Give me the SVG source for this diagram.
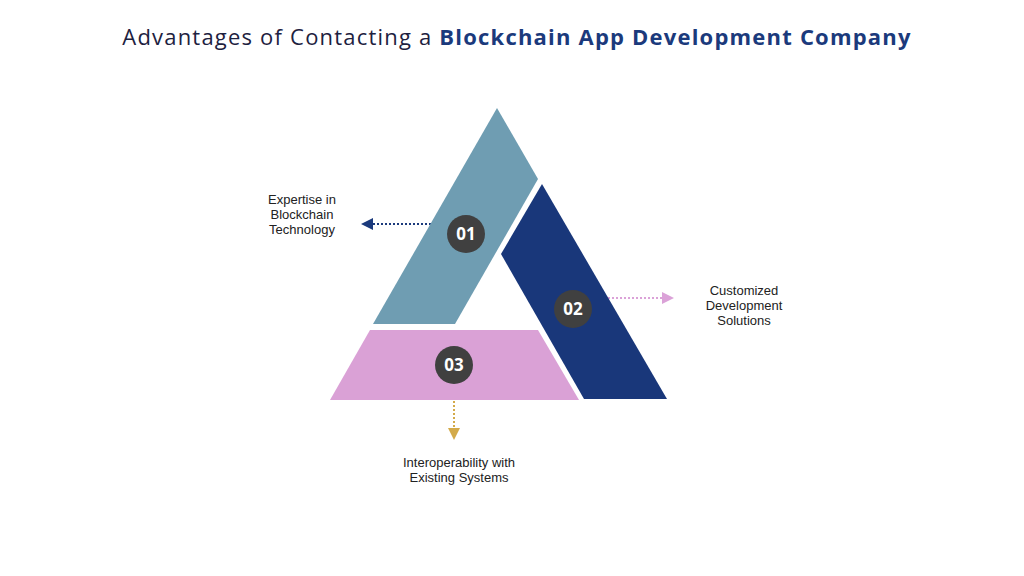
<svg xmlns="http://www.w3.org/2000/svg" width="1024" height="576" viewBox="0 0 1024 576">
<style>
.lbl{font-family:"Liberation Sans",Arial,sans-serif;font-size:13px;fill:#222;text-anchor:middle}
.num{font-family:"Open Sans",sans-serif;font-weight:700;font-size:17px;fill:#fff;text-anchor:middle}
.c{fill:#404040}
</style>
<defs>
<marker id="mb" markerWidth="6" markerHeight="6" refX="3" refY="3" orient="auto"><path d="M0,0L6,3L0,6z" fill="#1b3a7c"/></marker>
<marker id="mp" markerWidth="6" markerHeight="6" refX="3" refY="3" orient="auto"><path d="M0,0L6,3L0,6z" fill="#dba2d8"/></marker>
<marker id="mg" markerWidth="6" markerHeight="6" refX="3" refY="3" orient="auto"><path d="M0,0L6,3L0,6z" fill="#d3aa4a"/></marker>
</defs>
<rect width="1024" height="576" fill="#fff"/>
<text x="517" y="45" text-anchor="middle" font-family="'Open Sans',sans-serif" font-size="22" letter-spacing="1.2" fill="#1d2140">Advantages of Contacting a <tspan font-weight="700" fill="#1b3a7c">Blockchain App Development Company</tspan></text>
<g id="connectors" fill="none" stroke-width="2" stroke-dasharray="2,2">
<line x1="431" y1="224" x2="367" y2="224" stroke="#1b3a7c" marker-end="url(#mb)"/>
<line x1="604" y1="298" x2="668" y2="298" stroke="#dba2d8" marker-end="url(#mp)"/>
<line x1="454" y1="401" x2="454" y2="434" stroke="#d3aa4a" marker-end="url(#mg)"/>
</g>
<g id="node1"><polygon points="497,108 538,179 455,324 373,324" fill="#6f9db2"/><circle class="c" cx="466" cy="234" r="19"/><text class="num" x="466" y="240">01</text>
<text class="lbl" x="302" y="204">Expertise in</text><text class="lbl" x="302" y="219">Blockchain</text><text class="lbl" x="302" y="234">Technology</text></g>
<g id="node2"><polygon points="542,184 667,399 584,399 501,254" fill="#19377a"/><circle class="c" cx="573" cy="309" r="19"/><text class="num" x="573" y="315">02</text>
<text class="lbl" x="744" y="295">Customized</text><text class="lbl" x="744" y="310">Development</text><text class="lbl" x="744" y="325">Solutions</text></g>
<g id="node3"><polygon points="370,330 538,330 579,400 330,400" fill="#daa1d6"/><circle class="c" cx="454" cy="365" r="19"/><text class="num" x="454" y="371">03</text>
<text class="lbl" x="459" y="467">Interoperability with</text><text class="lbl" x="459" y="482">Existing Systems</text></g>
</svg>
